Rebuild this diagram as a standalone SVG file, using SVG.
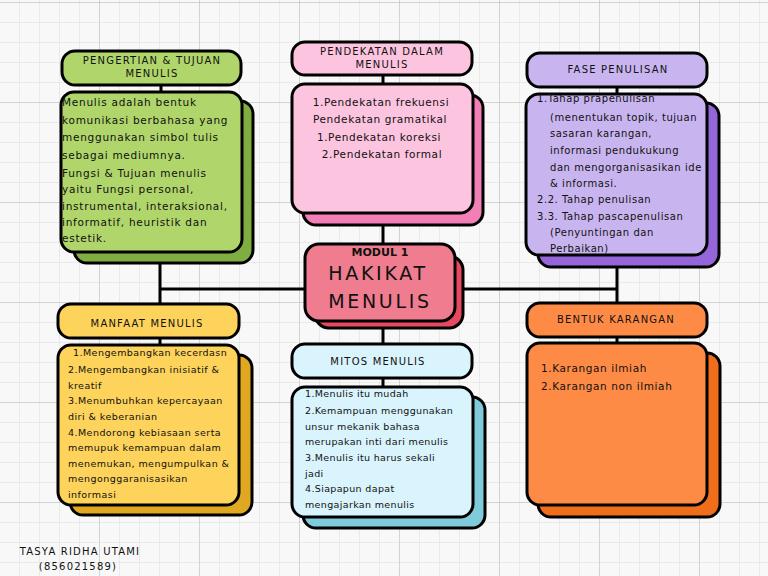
<svg xmlns="http://www.w3.org/2000/svg" width="768" height="576" viewBox="0 0 768 576">
<defs>
<pattern id="minor" width="20" height="20" patternUnits="userSpaceOnUse" x="0" y="3">
<path d="M20 0V20M0 20H20" fill="none" stroke="#dcdcdc" stroke-width="1"/>
</pattern>
<pattern id="major" width="100" height="100" patternUnits="userSpaceOnUse" x="0" y="3">
<path d="M100 0V100M0 100H100" fill="none" stroke="#bdbdbd" stroke-width="1"/>
</pattern>
<clipPath id="faseClip"><rect x="528" y="94" width="178" height="160"/></clipPath>
<style>
.bx{stroke:#000;stroke-width:3}
.hd{font-family:"DejaVu Sans",Verdana,sans-serif;font-size:10px;letter-spacing:1.2px;fill:#111;text-anchor:middle}
.tx{font-family:"DejaVu Sans",Verdana,sans-serif;fill:#111}
.ln{stroke:#000;stroke-width:3;fill:none}
</style>
</defs>
<rect width="768" height="576" fill="#f8f8f8"/>
<rect width="768" height="576" fill="url(#minor)"/>
<rect width="768" height="576" fill="url(#major)"/>

<g id="connectors">
<path class="ln" d="M161 84V93M383 74V84M617 86V94M383 212V246M160 252V305M160 289H617M617 256V304M383 320V345M383 377V388M160 337V346M617 336V344"/>
</g>

<g id="pengertian">
<rect class="bx" x="62" y="51" width="179" height="34" rx="13" fill="#b0d66b"/>
<text class="hd" x="152" y="64">PENGERTIAN &amp; TUJUAN</text>
<text class="hd" x="152" y="77">MENULIS</text>
<rect class="bx" x="74" y="101" width="179" height="162" rx="13" fill="#80ad40"/>
<rect class="bx" x="61" y="92" width="181" height="160" rx="13" fill="#b0d66b"/>
<g class="tx" font-size="10.5" letter-spacing="0.75">
<text x="62" y="106">Menulis adalah bentuk</text>
<text x="62" y="124">komunikasi berbahasa yang</text>
<text x="62" y="141">menggunakan simbol tulis</text>
<text x="62" y="159">sebagai mediumnya.</text>
<text x="62" y="177">Fungsi &amp; Tujuan menulis</text>
<text x="62" y="193">yaitu Fungsi personal,</text>
<text x="62" y="210">instrumental, interaksional,</text>
<text x="62" y="226">informatif, heuristik dan</text>
<text x="62" y="242">estetik.</text>
</g>
</g>

<g id="pendekatan">
<rect class="bx" x="292" y="42" width="180" height="33" rx="13" fill="#fdc4df"/>
<text class="hd" x="382" y="55">PENDEKATAN DALAM</text>
<text class="hd" x="382" y="68">MENULIS</text>
<rect class="bx" x="303" y="95" width="180" height="130" rx="13" fill="#f27fb5"/>
<rect class="bx" x="292" y="84" width="181" height="129" rx="13" fill="#fdc4df"/>
<g class="tx" font-size="10.5" letter-spacing="0.6" text-anchor="middle">
<text x="381" y="106">1.Pendekatan frekuensi</text>
<text x="380" y="123">Pendekatan gramatikal</text>
<text x="379" y="141">1.Pendekatan koreksi</text>
<text x="382" y="158">2.Pendekatan formal</text>
</g>
</g>

<g id="fase">
<rect class="bx" x="527" y="53" width="180" height="34" rx="13" fill="#c8b5ef"/>
<text class="hd" x="618" y="73">FASE PENULISAN</text>
<rect class="bx" x="538" y="103" width="181" height="164" rx="13" fill="#9466da"/>
<rect class="bx" x="526" y="94" width="181" height="161" rx="13" fill="#c8b5ef"/>
<g class="tx" font-size="10" letter-spacing="0.55" clip-path="url(#faseClip)">
<text x="537" y="102">1.Tahap prapenulisan</text>
<text x="550" y="121">(menentukan topik, tujuan</text>
<text x="550" y="137">sasaran karangan,</text>
<text x="550" y="154">informasi pendukukung</text>
<text x="550" y="171">dan mengorganisasikan ide</text>
<text x="550" y="187">&amp; informasi.</text>
<text x="537" y="203">2.2. Tahap penulisan</text>
<text x="537" y="220">3.3. Tahap pascapenulisan</text>
<text x="550" y="236">(Penyuntingan dan</text>
<text x="550" y="252">Perbaikan)</text>
</g>
</g>

<g id="modul">
<rect class="bx" x="315" y="256" width="148" height="72" rx="14" fill="#e8495f"/>
<rect class="bx" x="305" y="244" width="150" height="77" rx="14" fill="#f07c8f"/>
<text class="tx" x="380" y="256" font-size="11" font-weight="bold" text-anchor="middle">MODUL 1</text>
<text class="tx" x="378" y="280" font-size="19" letter-spacing="2.7" text-anchor="middle">HAKIKAT</text>
<text class="tx" x="380" y="308" font-size="19" letter-spacing="2.7" text-anchor="middle">MENULIS</text>
</g>

<g id="manfaat">
<rect class="bx" x="58" y="304" width="181" height="34" rx="13" fill="#fdd35c"/>
<text class="hd" x="147" y="327">MANFAAT MENULIS</text>
<rect class="bx" x="70" y="355" width="182" height="160" rx="13" fill="#e0a820"/>
<rect class="bx" x="58" y="345" width="181" height="160" rx="13" fill="#fdd35c"/>
<g class="tx" font-size="9.5" letter-spacing="0.45">
<text x="73" y="356">1.Mengembangkan kecerdasn</text>
<text x="68" y="373">2.Mengembangkan inisiatif &amp;</text>
<text x="68" y="389">kreatif</text>
<text x="68" y="404">3.Menumbuhkan kepercayaan</text>
<text x="68" y="420">diri &amp; keberanian</text>
<text x="68" y="436">4.Mendorong kebiasaan serta</text>
<text x="68" y="451">memupuk kemampuan dalam</text>
<text x="68" y="467">menemukan, mengumpulkan &amp;</text>
<text x="68" y="482">mengonggaranisasikan</text>
<text x="68" y="498">informasi</text>
</g>
</g>

<g id="mitos">
<rect class="bx" x="292" y="344" width="180" height="34" rx="13" fill="#d9f4fc"/>
<text class="hd" x="378" y="365">MITOS MENULIS</text>
<rect class="bx" x="303" y="397" width="182" height="131" rx="13" fill="#7fcadb"/>
<rect class="bx" x="292" y="387" width="181" height="130" rx="13" fill="#d9f4fc"/>
<g class="tx" font-size="9.5" letter-spacing="0.35">
<text x="305" y="397">1.Menulis itu mudah</text>
<text x="305" y="414">2.Kemampuan menggunakan</text>
<text x="305" y="430">unsur mekanik bahasa</text>
<text x="305" y="445">merupakan inti dari menulis</text>
<text x="305" y="461">3.Menulis itu harus sekali</text>
<text x="305" y="477">jadi</text>
<text x="305" y="492">4.Siapapun dapat</text>
<text x="305" y="508">mengajarkan menulis</text>
</g>
</g>

<g id="bentuk">
<rect class="bx" x="527" y="303" width="180" height="34" rx="13" fill="#fd8b46"/>
<text class="hd" x="616" y="323">BENTUK KARANGAN</text>
<rect class="bx" x="538" y="353" width="182" height="164" rx="13" fill="#f06e1b"/>
<rect class="bx" x="527" y="343" width="180" height="162" rx="13" fill="#fd8b46"/>
<g class="tx" font-size="10.5" letter-spacing="0.6">
<text x="541" y="372">1.Karangan ilmiah</text>
<text x="541" y="390">2.Karangan non ilmiah</text>
</g>
</g>

<g id="author">
<text class="hd" x="80" y="555" letter-spacing="1.6">TASYA RIDHA UTAMI</text>
<text class="hd" x="78" y="570" letter-spacing="1.6">(856021589)</text>
</g>
</svg>
